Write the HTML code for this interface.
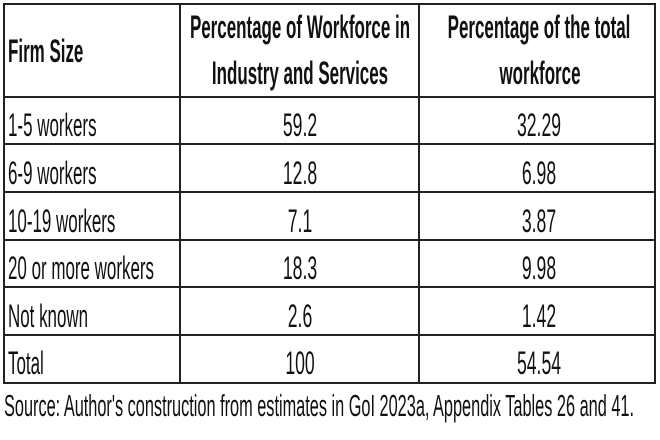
<!DOCTYPE html>
<html><head><meta charset="utf-8"><style>
html,body{margin:0;padding:0;background:#fff;}
svg{display:block;}
</style></head><body>
<svg width="660" height="440" viewBox="0 0 660 440" font-family="Liberation Sans, Arial, sans-serif" font-size="32" fill="#111">
<g stroke="#222" stroke-width="2">
<line x1="3" y1="4" x2="656" y2="4"/>
<line x1="3" y1="97" x2="656" y2="97"/>
<line x1="3" y1="144" x2="656" y2="144"/>
<line x1="3" y1="192" x2="656" y2="192"/>
<line x1="3" y1="240" x2="656" y2="240"/>
<line x1="3" y1="287" x2="656" y2="287"/>
<line x1="3" y1="335" x2="656" y2="335"/>
<line x1="3" y1="383" x2="656" y2="383"/>
<line x1="4" y1="4" x2="4" y2="383"/>
<line x1="180" y1="4" x2="180" y2="383"/>
<line x1="419" y1="4" x2="419" y2="383"/>
<line x1="655" y1="4" x2="655" y2="383"/>
</g>
<g font-weight="bold">
<text transform="translate(8 62) scale(0.53 1)">Firm Size</text>
<text text-anchor="middle" transform="translate(300 38) scale(0.53 1)">Percentage of Workforce in</text>
<text text-anchor="middle" transform="translate(300 84) scale(0.53 1)">Industry and Services</text>
<text text-anchor="middle" transform="translate(539 38) scale(0.53 1)">Percentage of the total</text>
<text text-anchor="middle" transform="translate(540 84) scale(0.53 1)">workforce</text>
</g>
<g>
<text transform="translate(8 136) scale(0.53 1)">1-5 workers</text>
<text transform="translate(8 184) scale(0.53 1)">6-9 workers</text>
<text transform="translate(8 232) scale(0.53 1)">10-19 workers</text>
<text transform="translate(8 279) scale(0.53 1)">20 or more workers</text>
<text transform="translate(8 327) scale(0.53 1)">Not known</text>
<text transform="translate(8 374) scale(0.53 1)">Total</text>
</g>
<g text-anchor="middle">
<text transform="translate(300 136) scale(0.55 1)">59.2</text>
<text transform="translate(300 184) scale(0.55 1)">12.8</text>
<text transform="translate(300 232) scale(0.55 1)">7.1</text>
<text transform="translate(300 279) scale(0.55 1)">18.3</text>
<text transform="translate(300 327) scale(0.55 1)">2.6</text>
<text transform="translate(300 374) scale(0.55 1)">100</text>
<text transform="translate(539 136) scale(0.55 1)">32.29</text>
<text transform="translate(539 184) scale(0.55 1)">6.98</text>
<text transform="translate(539 232) scale(0.55 1)">3.87</text>
<text transform="translate(539 279) scale(0.55 1)">9.98</text>
<text transform="translate(539 327) scale(0.55 1)">1.42</text>
<text transform="translate(539 374) scale(0.55 1)">54.54</text>
</g>
<text x="4" y="416" font-size="31" textLength="630" lengthAdjust="spacingAndGlyphs">Source: Author's construction from estimates in GoI 2023a, Appendix Tables 26 and 41.</text>
</svg>
</body></html>
